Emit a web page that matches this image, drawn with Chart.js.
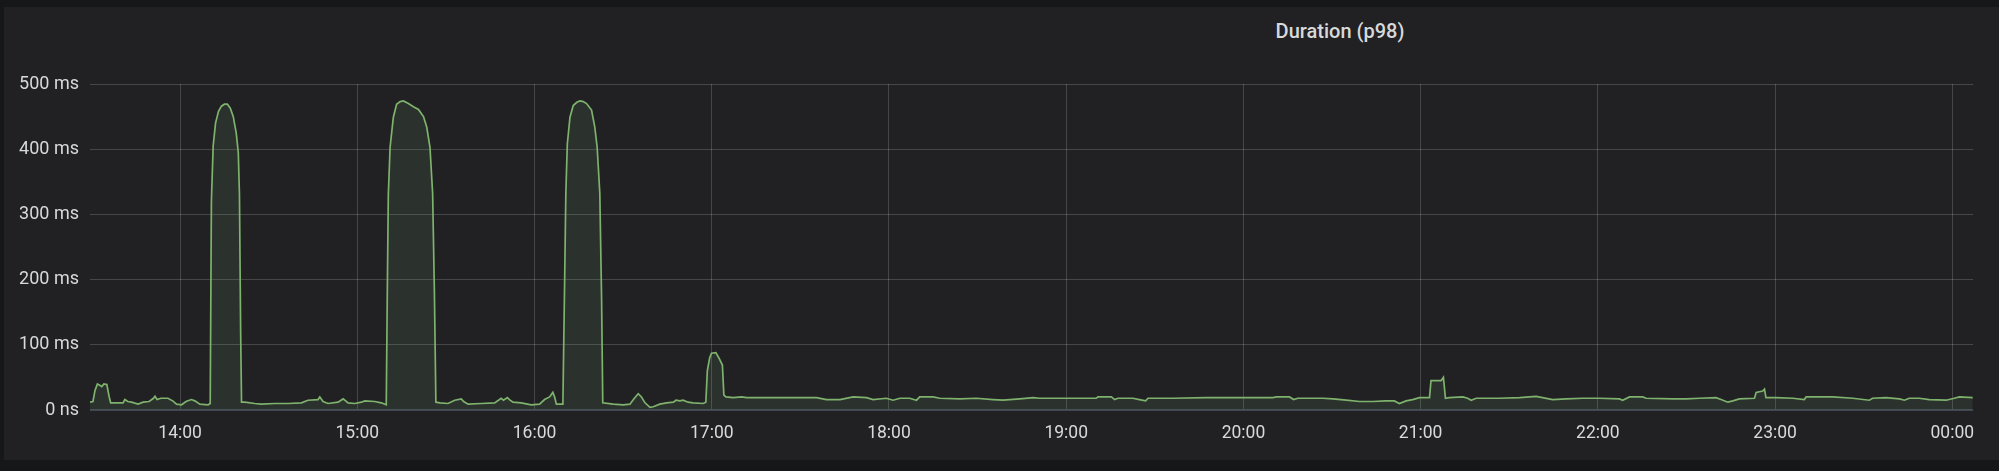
<!DOCTYPE html>
<html>
<head>
<meta charset="utf-8">
<title>Duration (p98)</title>
<script src="https://cdn.jsdelivr.net/npm/chart.js@4.4.0/dist/chart.umd.min.js"></script>
<style>
  html, body { margin: 0; padding: 0; background: #161719; }
  body { width: 1999px; height: 471px; position: relative; overflow: hidden; }
  #panel { position: absolute; left: 4px; top: 7px; width: 1995px; height: 453px; background: #212124; }
  #title { position: absolute; left: 1236px; top: 12px; width: 200px; text-align: center;
           font: 500 20px Roboto, sans-serif; color: #d8d9da; }
  canvas { position: absolute; left: 0; top: 0; }
</style>
</head>
<body>
<div id="panel">
  <div id="title">Duration (p98)</div>
  <canvas id="chart" width="1995" height="453"></canvas>
</div>
<script>
// minutes since midnight (13:29 .. 00:07)
const times = [
  809.5, 810.5, 811.2, 812.0, 812.8, 813.5, 814.2, 815.2, 816.0, 816.5,
  820.7, 821.3, 822.3, 823.5, 825.8, 827.5, 829.5, 831.0, 831.5, 832.2,
  833.5, 835.9, 837.5, 838.8, 840.5, 842.0, 843.8, 845.0, 846.7, 849.5,
  850.2, 850.6, 851.2, 852.0, 853.0, 854.0, 855.0, 856.0, 857.0, 858.0,
  859.0, 859.7, 860.1, 860.5, 860.8, 861.9, 865.3, 867.5, 872.0, 876.6,
  881.1, 883.3, 886.7, 887.3, 888.4, 890.1, 893.5, 895.2, 896.9, 899.1,
  901.4, 902.5, 905.9, 908.1, 909.8, 910.2, 910.5, 911.1, 912.2, 913.3,
  914.5, 915.6, 917.3, 919.0, 920.7, 922.4, 923.5, 924.6, 925.5, 926.1,
  926.6, 928.0, 930.7, 933.0, 935.2, 936.0, 937.5, 942.0, 946.5, 948.7,
  949.5, 950.8, 951.5, 952.7, 955.5, 958.9, 961.7, 963.4, 965.1, 966.2,
  966.8, 967.4, 969.6, 970.2, 970.6, 971.1, 972.0, 973.1, 974.3, 975.4,
  976.5, 977.6, 979.3, 980.4, 981.2, 982.1, 982.7, 983.1, 986.6, 990.0,
  992.3, 993.6, 995.1, 996.2, 997.4, 999.1, 1000.2, 1002.4, 1004.7, 1007.0,
  1007.9, 1009.2, 1010.3, 1012.0, 1013.7, 1017.1, 1018.0, 1018.5, 1019.3, 1019.9,
  1021.4, 1022.5, 1023.6, 1024.1, 1024.8, 1027.3, 1030.1, 1031.8, 1036.3, 1041.9,
  1047.6, 1055.5, 1058.8, 1063.4, 1067.9, 1072.4, 1074.6, 1079.1, 1081.4, 1083.7,
  1087.0, 1089.3, 1090.4, 1094.9, 1097.2, 1104.0, 1109.6, 1115.2, 1118.6, 1124.3,
  1128.8, 1131.0, 1136.6, 1142.3, 1150.2, 1150.7, 1155.3, 1156.4, 1157.5, 1162.6,
  1164.8, 1166.9, 1167.7, 1176.1, 1187.4, 1198.7, 1210.0, 1211.1, 1215.6, 1217.0,
  1218.4, 1226.9, 1230.3, 1234.8, 1239.3, 1243.8, 1248.3, 1251.1, 1252.8, 1255.1,
  1257.3, 1259.6, 1263.0, 1263.5, 1266.9, 1267.7, 1268.4, 1269.7, 1274.3, 1275.9,
  1277.1, 1278.8, 1286.7, 1293.5, 1299.1, 1304.7, 1309.3, 1314.9, 1320.5, 1327.3,
  1328.4, 1330.7, 1335.2, 1336.3, 1345.4, 1349.9, 1354.4, 1360.0, 1361.7, 1364.0,
  1365.7, 1367.9, 1373.0, 1373.6, 1375.8, 1376.4, 1376.9, 1380.3, 1386.0, 1389.9,
  1390.5, 1399.5, 1406.3, 1411.9, 1413.0, 1417.5, 1422.1, 1423.8, 1425.4, 1428.8,
  1432.2, 1437.9, 1440.7, 1442.4, 1446.9
];

// p98 duration in ms
const durationMs = [
  12, 13, 30, 40, 38, 36, 40, 39, 20, 11,
  11, 16, 13, 12, 9, 12, 13, 18, 21, 16,
  18, 18, 14, 9, 8, 13, 16, 14, 9, 8,
  10, 320, 405, 440, 458, 466, 469, 469, 463, 450,
  425, 395, 330, 120, 12, 12, 10, 9, 10, 10,
  11, 15, 16, 20, 13, 10, 12, 17, 11, 10,
  12, 14, 13, 11, 8, 200, 330, 403, 449, 469,
  473, 474, 470, 465, 461, 450, 434, 403, 332, 180,
  12, 11, 10, 15, 17, 13, 9, 10, 11, 18,
  15, 19, 16, 12, 11, 8, 9, 16, 20, 27,
  20, 9, 9, 200, 332, 408, 449, 467, 472, 474,
  473, 470, 460, 434, 403, 332, 170, 11, 9, 8,
  9, 17, 25, 20, 11, 4, 5, 9, 11, 12,
  15, 14, 15, 12, 11, 10, 12, 60, 80, 87,
  88, 79, 69, 23, 20, 19, 20, 19, 19, 19,
  19, 19, 16, 16, 20, 19, 16, 18, 15, 18,
  18, 15, 20, 20, 18, 17, 18, 16, 15, 17,
  19, 18, 18, 18, 18, 20, 20, 16, 18, 18,
  16, 14, 18, 18, 19, 19, 19, 20, 20, 16,
  18, 18, 17, 15, 13, 13, 14, 14, 10, 14,
  16, 19, 19, 45, 45, 50, 18, 19, 20, 18,
  15, 18, 18, 19, 21, 16, 17, 18, 18, 17,
  15, 20, 20, 18, 17, 17, 18, 19, 16, 12,
  14, 17, 18, 27, 29, 32, 19, 19, 18, 16,
  20, 20, 18, 15, 18, 19, 17, 15, 18, 18,
  16, 15, 18, 20, 19
];

const xTickMinutes = [840, 900, 960, 1020, 1080, 1140, 1200, 1260, 1320, 1380, 1440];
const xTickLabels = ['14:00', '15:00', '16:00', '17:00', '18:00', '19:00', '20:00', '21:00', '22:00', '23:00', '00:00'];
const yTickValues = [0, 100, 200, 300, 400, 500];
const yTickLabels = ['0 ns', '100 ms', '200 ms', '300 ms', '400 ms', '500 ms'];

const textColor = '#d8d9da';
const gridColor = 'rgba(255,255,255,0.17)';

new Chart(document.getElementById('chart'), {
  type: 'line',
  data: {
    datasets: [{
      label: 'Duration (p98)',
      data: times.map((t, i) => ({ x: t, y: durationMs[i] })),
      borderColor: '#7eb26d',
      borderWidth: 1.7,
      backgroundColor: 'rgba(126,178,109,0.11)',
      fill: 'origin',
      pointRadius: 0,
      tension: 0
    }]
  },
  options: {
    responsive: false,
    animation: false,
    layout: { padding: { left: 0, right: 26, top: 77, bottom: 10 } },
    plugins: {
      legend: { display: false },
      tooltip: { enabled: false }
    },
    scales: {
      x: {
        type: 'linear',
        min: 809.5,
        max: 1447,
        afterBuildTicks: axis => { axis.ticks = xTickMinutes.map(v => ({ value: v })); },
        afterFit: axis => { axis.height = 40; },
        ticks: {
          color: textColor,
          font: { family: 'Roboto', size: 17.5 },
          padding: 13,
          maxRotation: 0,
          autoSkip: false,
          callback: (v, i) => xTickLabels[i]
        },
        grid: { color: gridColor, drawTicks: false },
        border: { display: false }
      },
      y: {
        min: 0,
        max: 500,
        afterBuildTicks: axis => { axis.ticks = yTickValues.map(v => ({ value: v })); },
        afterFit: axis => { axis.width = 86; },
        ticks: {
          color: textColor,
          font: { family: 'Roboto', size: 18 },
          padding: 11,
          callback: (v, i) => yTickLabels[i]
        },
        grid: {
          color: ctx => ctx.tick && ctx.tick.value === 0 ? '#414652' : gridColor,
          lineWidth: ctx => ctx.tick && ctx.tick.value === 0 ? 2 : 1,
          drawTicks: false
        },
        border: { display: false }
      }
    }
  }
});
</script>
</body>
</html>
